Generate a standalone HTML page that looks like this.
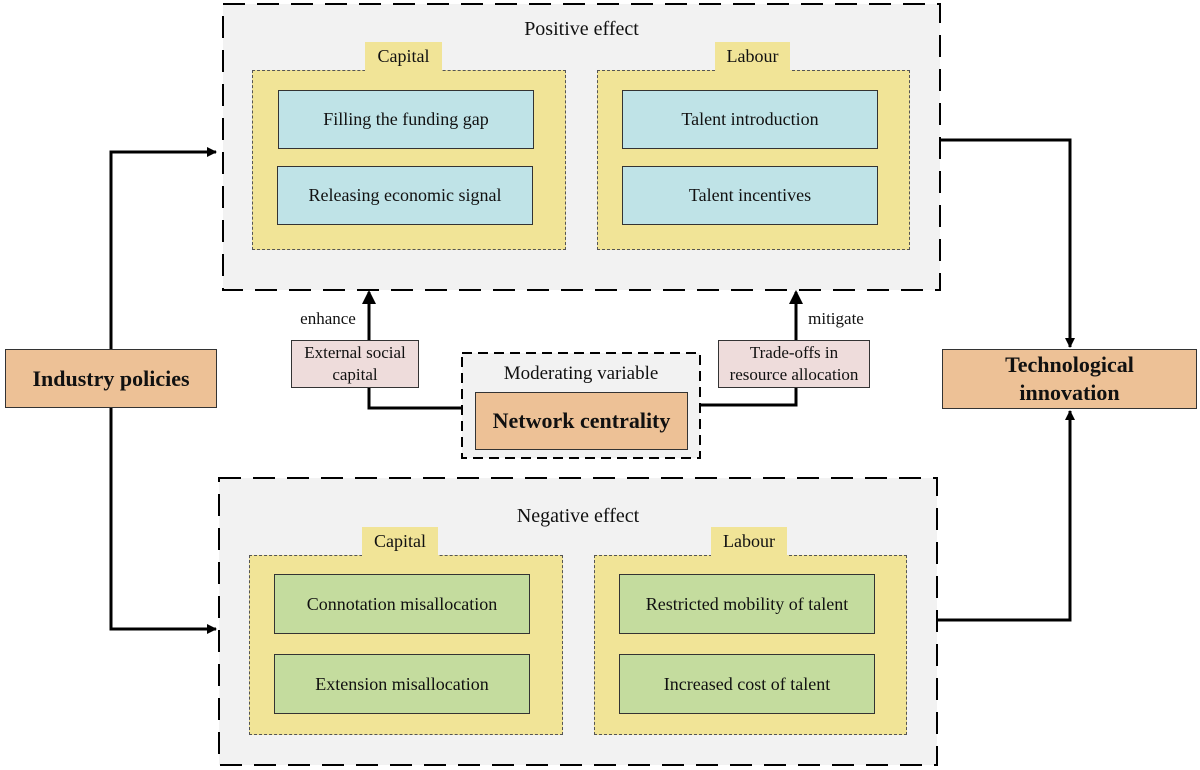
<!DOCTYPE html>
<html><head><meta charset="utf-8"><style>
body{margin:0;width:1200px;height:770px;background:#fff;position:relative;font-family:"Liberation Serif",serif;overflow:hidden}
.a{position:absolute;box-sizing:border-box;display:flex;align-items:center;justify-content:center;text-align:center;color:#111}
.y{background:#f1e497;border:1.3px dashed #555}
.tab{background:#f1e497;font-size:18px}
.c{background:#bfe3e7;border:1.3px solid #333;font-size:18px}
.g{background:#c4dc9e;border:1.3px solid #333;font-size:18px}
.o{background:#edc196;border:1.3px solid #333;font-weight:bold}
.p{background:#eedcdb;border:1.3px solid #333;font-size:17px;line-height:22px}
</style></head><body>
<svg width="1200" height="770" style="position:absolute;left:0;top:0">
<defs><marker id="m" markerWidth="10" markerHeight="10" refX="9" refY="5" orient="auto" markerUnits="userSpaceOnUse"><path d="M0,0 L10,5 L0,10 z" fill="#000"/></marker>
<marker id="n" markerWidth="14" markerHeight="16" refX="12" refY="7" orient="auto" markerUnits="userSpaceOnUse"><path d="M0,0 L14,7 L0,14 z" fill="#000"/></marker></defs>
<rect x="223" y="4" width="717" height="286" fill="#f2f2f2" stroke="#000" stroke-width="2" stroke-dasharray="22,12"/>
<rect x="219" y="478" width="718" height="287" fill="#f2f2f2" stroke="#000" stroke-width="2" stroke-dasharray="22,12"/>
<rect x="462" y="353" width="238" height="105" fill="#f2f2f2" stroke="#000" stroke-width="2" stroke-dasharray="10,6"/>
<g stroke="#000" stroke-width="3" fill="none">
<polyline points="111,349 111,152 216,152" marker-end="url(#m)"/>
<polyline points="111,408 111,629 216,629" marker-end="url(#m)"/>
<polyline points="940,140 1070,140 1070,347" marker-end="url(#m)"/>
<polyline points="937,620 1070,620 1070,411" marker-end="url(#m)"/>
<polyline points="462,408 369,408 369,388"/>
<polyline points="369,340 369,292" marker-end="url(#n)"/>
<polyline points="700,405 796,405 796,388"/>
<polyline points="796,340 796,292" marker-end="url(#n)"/>
</g>
</svg>
<div class="a" style="left:223px;top:14px;width:717px;height:30px;font-size:20px">Positive effect</div>
<div class="a" style="left:219px;top:501px;width:718px;height:30px;font-size:20px">Negative effect</div>
<div class="a y" style="left:252px;top:70px;width:314px;height:180px"></div>
<div class="a tab" style="left:365px;top:42px;width:77px;height:29px">Capital</div>
<div class="a y" style="left:597px;top:70px;width:313px;height:180px"></div>
<div class="a tab" style="left:715px;top:42px;width:75px;height:29px">Labour</div>
<div class="a c" style="left:278px;top:90px;width:256px;height:59px">Filling the funding gap</div>
<div class="a c" style="left:277px;top:166px;width:256px;height:59px">Releasing economic signal</div>
<div class="a c" style="left:622px;top:90px;width:256px;height:59px">Talent introduction</div>
<div class="a c" style="left:622px;top:166px;width:256px;height:59px">Talent incentives</div>
<div class="a y" style="left:249px;top:555px;width:314px;height:180px"></div>
<div class="a tab" style="left:362px;top:527px;width:76px;height:29px">Capital</div>
<div class="a y" style="left:594px;top:555px;width:313px;height:180px"></div>
<div class="a tab" style="left:711px;top:527px;width:76px;height:29px">Labour</div>
<div class="a g" style="left:274px;top:574px;width:256px;height:60px">Connotation misallocation</div>
<div class="a g" style="left:274px;top:654px;width:256px;height:60px">Extension misallocation</div>
<div class="a g" style="left:619px;top:574px;width:256px;height:60px">Restricted mobility of talent</div>
<div class="a g" style="left:619px;top:654px;width:256px;height:60px">Increased cost of talent</div>
<div class="a o" style="left:5px;top:349px;width:212px;height:59px;font-size:22px">Industry policies</div>
<div class="a o" style="left:942px;top:349px;width:255px;height:60px;font-size:22px;line-height:28px">Technological<br>innovation</div>
<div class="a o" style="left:475px;top:392px;width:213px;height:58px;font-size:22px">Network centrality</div>
<div class="a" style="left:462px;top:360px;width:238px;height:28px;font-size:19px">Moderating variable</div>
<div class="a p" style="left:291px;top:340px;width:128px;height:48px">External social<br>capital</div>
<div class="a p" style="left:718px;top:340px;width:152px;height:48px">Trade-offs in<br>resource allocation</div>
<div class="a" style="left:290px;top:306px;width:76px;height:26px;font-size:17px">enhance</div>
<div class="a" style="left:800px;top:306px;width:72px;height:26px;font-size:17px">mitigate</div>
</body></html>
